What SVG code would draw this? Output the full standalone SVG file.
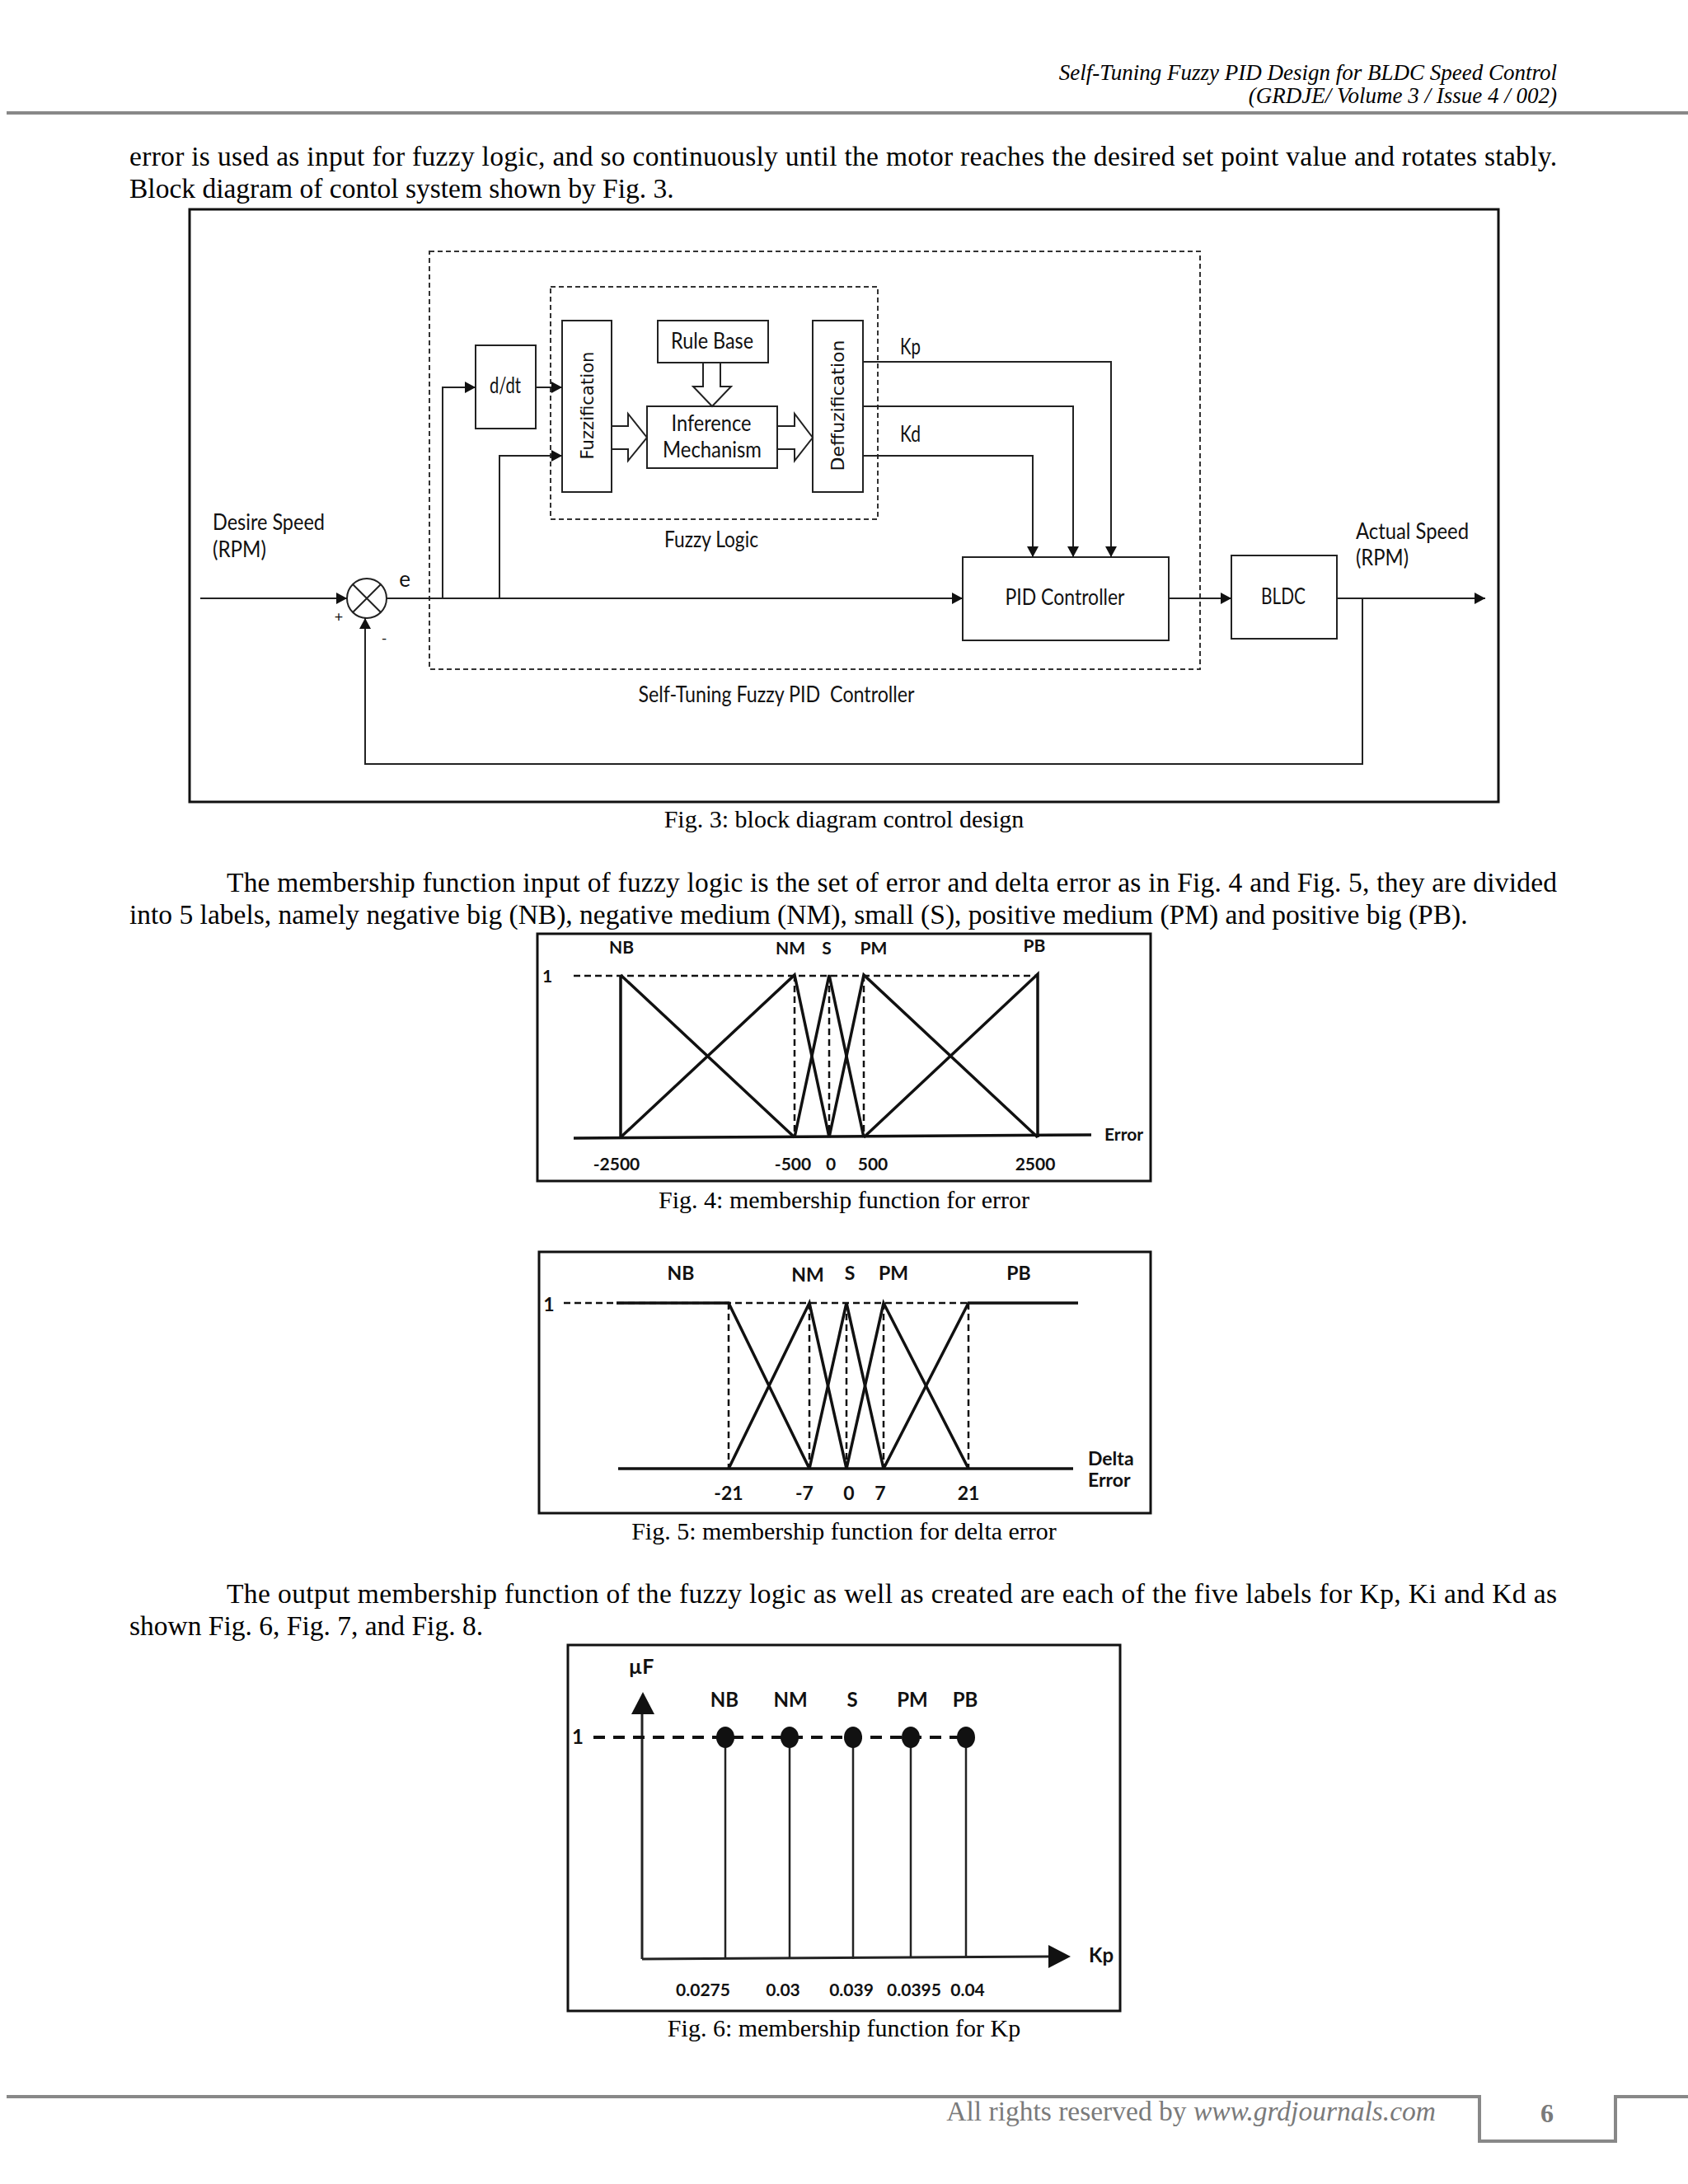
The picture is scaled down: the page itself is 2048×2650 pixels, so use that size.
<svg xmlns="http://www.w3.org/2000/svg" width="2048" height="2650" viewBox="0 0 2048 2650">
<style>
.body{font-family:"Liberation Serif","Times New Roman",serif;font-size:33.5px;fill:#000}
.cap{font-family:"Liberation Serif","Times New Roman",serif;font-size:30px;fill:#000}
.hdr{font-family:"Liberation Serif","Times New Roman",serif;font-size:27px;font-style:italic;fill:#000}
.foot{font-family:"Liberation Serif","Times New Roman",serif;font-size:33.5px;fill:#7a7a7a}
.lbl{font-family:Lato,"Open Sans",sans-serif;font-size:26px;fill:#111}
.vl{font-family:"DejaVu Sans",Verdana,sans-serif;font-size:21px;fill:#111}
.mf{font-family:Lato,"Open Sans",sans-serif;font-weight:bold;font-size:21px;fill:#111}
.mf2{font-family:Lato,"Open Sans",sans-serif;font-weight:bold;font-size:23px;fill:#111}
.mid{text-anchor:middle}
.box{fill:#fff;stroke:#222;stroke-width:2}
.ln{fill:none;stroke:#222;stroke-width:2}
.dash{fill:none;stroke:#333;stroke-width:2;stroke-dasharray:6 4}
.frame{fill:none;stroke:#111;stroke-width:3}
.mline{fill:none;stroke:#111;stroke-width:3.5;stroke-linejoin:miter}
.mdash{fill:none;stroke:#111;stroke-width:2.5;stroke-dasharray:8 5}
.rule{fill:none;stroke:#888;stroke-width:4}
</style>
<defs>
<marker id="arr" markerUnits="userSpaceOnUse" markerWidth="14" markerHeight="14" refX="13" refY="7" orient="auto">
<path d="M0,0 L13,7 L0,14 z" fill="#111"/>
</marker>
</defs>
<rect width="2048" height="2650" fill="#fff"/>

<g id="header">
<text class="hdr" x="1889" y="97" text-anchor="end">Self-Tuning Fuzzy PID Design for BLDC Speed Control</text>
<text class="hdr" x="1889" y="125" text-anchor="end">(GRDJE/ Volume 3 / Issue 4 / 002)</text>
<line class="rule" x1="8" y1="137" x2="2048" y2="137"/>
</g>

<g id="para1">
<text class="body" x="157" y="201" textLength="1732" lengthAdjust="spacing">error is used as input for fuzzy logic, and so continuously until the motor reaches the desired set point value and rotates stably.</text>
<text class="body" x="157" y="240">Block diagram of contol system shown by Fig. 3.</text>
</g>

<g id="fig3">
<rect class="frame" x="230" y="254" width="1588" height="719"/>
<rect id="selftuning-box" class="dash" x="521" y="305" width="935" height="507"/>
<rect id="fuzzylogic-box" class="dash" x="668" y="348" width="397" height="282"/>

<g id="ddt"><rect class="box" x="577" y="419" width="73" height="101"/><text class="lbl mid" x="613" y="477" textLength="38" lengthAdjust="spacingAndGlyphs">d/dt</text></g>
<g id="fuzzification"><rect class="box" x="682" y="389" width="60" height="208"/><text class="vl mid" transform="translate(720,492) rotate(-90)" textLength="131" lengthAdjust="spacingAndGlyphs">Fuzzification</text></g>
<g id="rulebase"><rect class="box" x="798" y="389" width="134" height="51"/><text class="lbl mid" x="864" y="423" textLength="100" lengthAdjust="spacingAndGlyphs">Rule Base</text></g>
<g id="inference"><rect class="box" x="785" y="493" width="158" height="75"/><text class="lbl mid" x="863" y="523" textLength="97" lengthAdjust="spacingAndGlyphs">Inference</text><text class="lbl mid" x="864" y="555" textLength="120" lengthAdjust="spacingAndGlyphs">Mechanism</text></g>
<g id="deffuzification"><rect class="box" x="986" y="389" width="61" height="208"/><text class="vl mid" transform="translate(1024,492) rotate(-90)" textLength="159" lengthAdjust="spacingAndGlyphs">Deffuzification</text></g>
<g id="pid"><rect class="box" x="1168" y="676" width="250" height="101"/><text class="lbl mid" x="1292" y="734" textLength="145" lengthAdjust="spacingAndGlyphs">PID Controller</text></g>
<g id="bldc"><rect class="box" x="1494" y="674" width="128" height="101"/><text class="lbl mid" x="1557" y="733" textLength="54" lengthAdjust="spacingAndGlyphs">BLDC</text></g>
<g id="sum"><circle cx="445" cy="726" r="24" fill="#fff" stroke="#222" stroke-width="2"/><path class="ln" d="M428,709 L462,743 M462,709 L428,743"/></g>

<g id="connectors">
<path class="ln" d="M243,726 H421" marker-end="url(#arr)"/>
<path class="ln" d="M469,726 H1168" marker-end="url(#arr)"/>
<path class="ln" d="M1418,726 H1494" marker-end="url(#arr)"/>
<path class="ln" d="M1622,726 H1802" marker-end="url(#arr)"/>
<path class="ln" d="M1653,726 V927 H443 V750" marker-end="url(#arr)"/>
<path class="ln" d="M537,726 V470 H577" marker-end="url(#arr)"/>
<path class="ln" d="M650,470 H682" marker-end="url(#arr)"/>
<path class="ln" d="M606,726 V553 H682" marker-end="url(#arr)"/>
<path class="ln" d="M1047,439 H1348 V676" marker-end="url(#arr)"/>
<path class="ln" d="M1047,493 H1302 V676" marker-end="url(#arr)"/>
<path class="ln" d="M1047,553 H1253 V676" marker-end="url(#arr)"/>
<polygon class="box" points="853,440 874,440 874,469 887,469 864,493 841,469 853,469"/>
<polygon class="box" points="742,517 762,517 762,502 785,531 762,559 762,545 742,545"/>
<polygon class="box" points="943,517 964,517 964,502 986,531 964,559 964,545 943,545"/>
</g>

<text class="lbl" x="258" y="643" textLength="136" lengthAdjust="spacingAndGlyphs">Desire Speed</text>
<text class="lbl" x="258" y="676" textLength="65" lengthAdjust="spacingAndGlyphs">(RPM)</text>
<text class="lbl mid" x="491" y="712">e</text>
<text class="lbl mid" x="411" y="755" style="font-size:18px">+</text>
<text class="lbl mid" x="466" y="781" style="font-size:18px">-</text>
<text class="lbl mid" x="863" y="664" textLength="114" lengthAdjust="spacingAndGlyphs">Fuzzy Logic</text>
<text class="lbl mid" x="942" y="852" textLength="335" lengthAdjust="spacingAndGlyphs" xml:space="preserve">Self-Tuning Fuzzy PID  Controller</text>
<text class="lbl" x="1645" y="654" textLength="137" lengthAdjust="spacingAndGlyphs">Actual Speed</text>
<text class="lbl" x="1645" y="686" textLength="64" lengthAdjust="spacingAndGlyphs">(RPM)</text>
<text class="lbl" x="1092" y="430" textLength="25" lengthAdjust="spacingAndGlyphs">Kp</text>
<text class="lbl" x="1092" y="536" textLength="25" lengthAdjust="spacingAndGlyphs">Kd</text>
</g>
<text class="cap mid" x="1024" y="1004">Fig. 3: block diagram control design</text>

<g id="para2">
<text class="body" x="275" y="1082" textLength="1614" lengthAdjust="spacing">The membership function input of fuzzy logic is the set of error and delta error as in Fig. 4 and Fig. 5, they are divided</text>
<text class="body" x="157" y="1121">into 5 labels, namely negative big (NB), negative medium (NM), small (S), positive medium (PM) and positive big (PB).</text>
</g>

<g id="fig4">
<rect class="frame" x="652" y="1133" width="744" height="300"/>
<path class="mdash" d="M696,1184 H1259"/>
<path class="mdash" d="M964,1183 V1380 M1006,1183 V1380 M1048,1183 V1380"/>
<path class="mline" d="M696,1381 L1324,1377"/>
<path class="mline" d="M753,1183 V1380 M753,1183 L964,1380"/>
<path class="mline" d="M753,1380 L964,1183 L1006,1380"/>
<path class="mline" d="M964,1380 L1006,1183 L1048,1380"/>
<path class="mline" d="M1006,1380 L1048,1183 L1259,1380"/>
<path class="mline" d="M1048,1380 L1259,1182 V1380"/>
<text class="mf mid" x="754" y="1157">NB</text>
<text class="mf mid" x="959" y="1158">NM</text>
<text class="mf mid" x="1003" y="1158">S</text>
<text class="mf mid" x="1060" y="1158">PM</text>
<text class="mf mid" x="1255" y="1155">PB</text>
<text class="mf mid" x="664" y="1192">1</text>
<text class="mf" x="1340" y="1384">Error</text>
<text class="mf mid" x="748" y="1420">-2500</text>
<text class="mf mid" x="962" y="1420">-500</text>
<text class="mf mid" x="1008" y="1420">0</text>
<text class="mf mid" x="1059" y="1420">500</text>
<text class="mf mid" x="1256" y="1420">2500</text>
</g>
<text class="cap mid" x="1024" y="1466">Fig. 4: membership function for error</text>

<g id="fig5">
<rect class="frame" x="654" y="1519" width="742" height="317"/>
<path class="mdash" d="M684,1581 H1175"/>
<path class="mdash" d="M884,1581 V1782 M982,1581 V1782 M1027,1581 V1782 M1072,1581 V1782 M1175,1581 V1782"/>
<path class="mline" d="M750,1782 H1302"/>
<path class="mline" d="M748,1581 H884 L982,1782"/>
<path class="mline" d="M884,1782 L982,1581 L1027,1782"/>
<path class="mline" d="M982,1782 L1027,1581 L1072,1782"/>
<path class="mline" d="M1027,1782 L1072,1581 L1175,1782"/>
<path class="mline" d="M1072,1782 L1175,1581 H1308"/>
<text class="mf2 mid" x="826" y="1553">NB</text>
<text class="mf2 mid" x="980" y="1555">NM</text>
<text class="mf2 mid" x="1031" y="1553">S</text>
<text class="mf2 mid" x="1084" y="1553">PM</text>
<text class="mf2 mid" x="1236" y="1553">PB</text>
<text class="mf2 mid" x="666" y="1591">1</text>
<text class="mf2" x="1320" y="1778">Delta</text>
<text class="mf2" x="1320" y="1804">Error</text>
<text class="mf2 mid" x="884" y="1820">-21</text>
<text class="mf2 mid" x="976" y="1820">-7</text>
<text class="mf2 mid" x="1030" y="1820">0</text>
<text class="mf2 mid" x="1068" y="1820">7</text>
<text class="mf2 mid" x="1175" y="1820">21</text>
</g>
<text class="cap mid" x="1024" y="1868">Fig. 5: membership function for delta error</text>

<g id="para3">
<text class="body" x="275" y="1945" textLength="1614" lengthAdjust="spacing">The output membership function of the fuzzy logic as well as created are each of the five labels for Kp, Ki and Kd as</text>
<text class="body" x="157" y="1984">shown Fig. 6, Fig. 7, and Fig. 8.</text>
</g>

<g id="fig6">
<rect class="frame" x="689" y="1996" width="670" height="444"/>
<path class="ln" style="stroke-width:3" d="M779,2377 V2078"/>
<polygon points="766,2080 794,2080 780,2053" fill="#111"/>
<path class="ln" style="stroke-width:3" d="M779,2377 L1274,2374"/>
<polygon points="1272,2360 1272,2388 1299,2374" fill="#111"/>
<path fill="none" stroke="#111" stroke-width="4" stroke-dasharray="14 10" d="M720,2108 H1171"/>
<path class="ln" style="stroke-width:2.5" d="M880,2108 V2377 M958,2108 V2377 M1035,2108 V2377 M1105,2108 V2376 M1172,2108 V2376"/>
<ellipse cx="880" cy="2108" rx="11" ry="13" fill="#111"/>
<ellipse cx="958" cy="2108" rx="11" ry="13" fill="#111"/>
<ellipse cx="1035" cy="2108" rx="11" ry="13" fill="#111"/>
<ellipse cx="1105" cy="2108" rx="11" ry="13" fill="#111"/>
<ellipse cx="1172" cy="2108" rx="11" ry="13" fill="#111"/>
<text class="mf2 mid" x="778" y="2031" style="font-size:25px">µF</text>
<text class="mf2 mid" x="701" y="2116" style="font-size:24px">1</text>
<text class="mf2 mid" x="879" y="2071" style="font-size:24px">NB</text>
<text class="mf2 mid" x="959" y="2071" style="font-size:24px">NM</text>
<text class="mf2 mid" x="1034" y="2071" style="font-size:24px">S</text>
<text class="mf2 mid" x="1107" y="2071" style="font-size:24px">PM</text>
<text class="mf2 mid" x="1171" y="2071" style="font-size:24px">PB</text>
<text class="mf2 mid" x="1336" y="2381" style="font-size:24px">Kp</text>
<text class="mf mid" x="853" y="2422">0.0275</text>
<text class="mf mid" x="950" y="2422">0.03</text>
<text class="mf mid" x="1033" y="2422">0.039</text>
<text class="mf mid" x="1109" y="2422">0.0395</text>
<text class="mf mid" x="1174" y="2422">0.04</text>
</g>
<text class="cap mid" x="1024" y="2471">Fig. 6: membership function for Kp</text>

<g id="footer">
<path class="rule" style="stroke-width:4" d="M8,2544 H1795 V2598 H1960 V2544 H2048"/>
<text class="foot" x="1742" y="2573" text-anchor="end">All rights reserved by <tspan font-style="italic">www.grdjournals.com</tspan></text>
<text class="foot mid" x="1877" y="2575" style="font-size:32px;font-weight:bold">6</text>
</g>
</svg>
